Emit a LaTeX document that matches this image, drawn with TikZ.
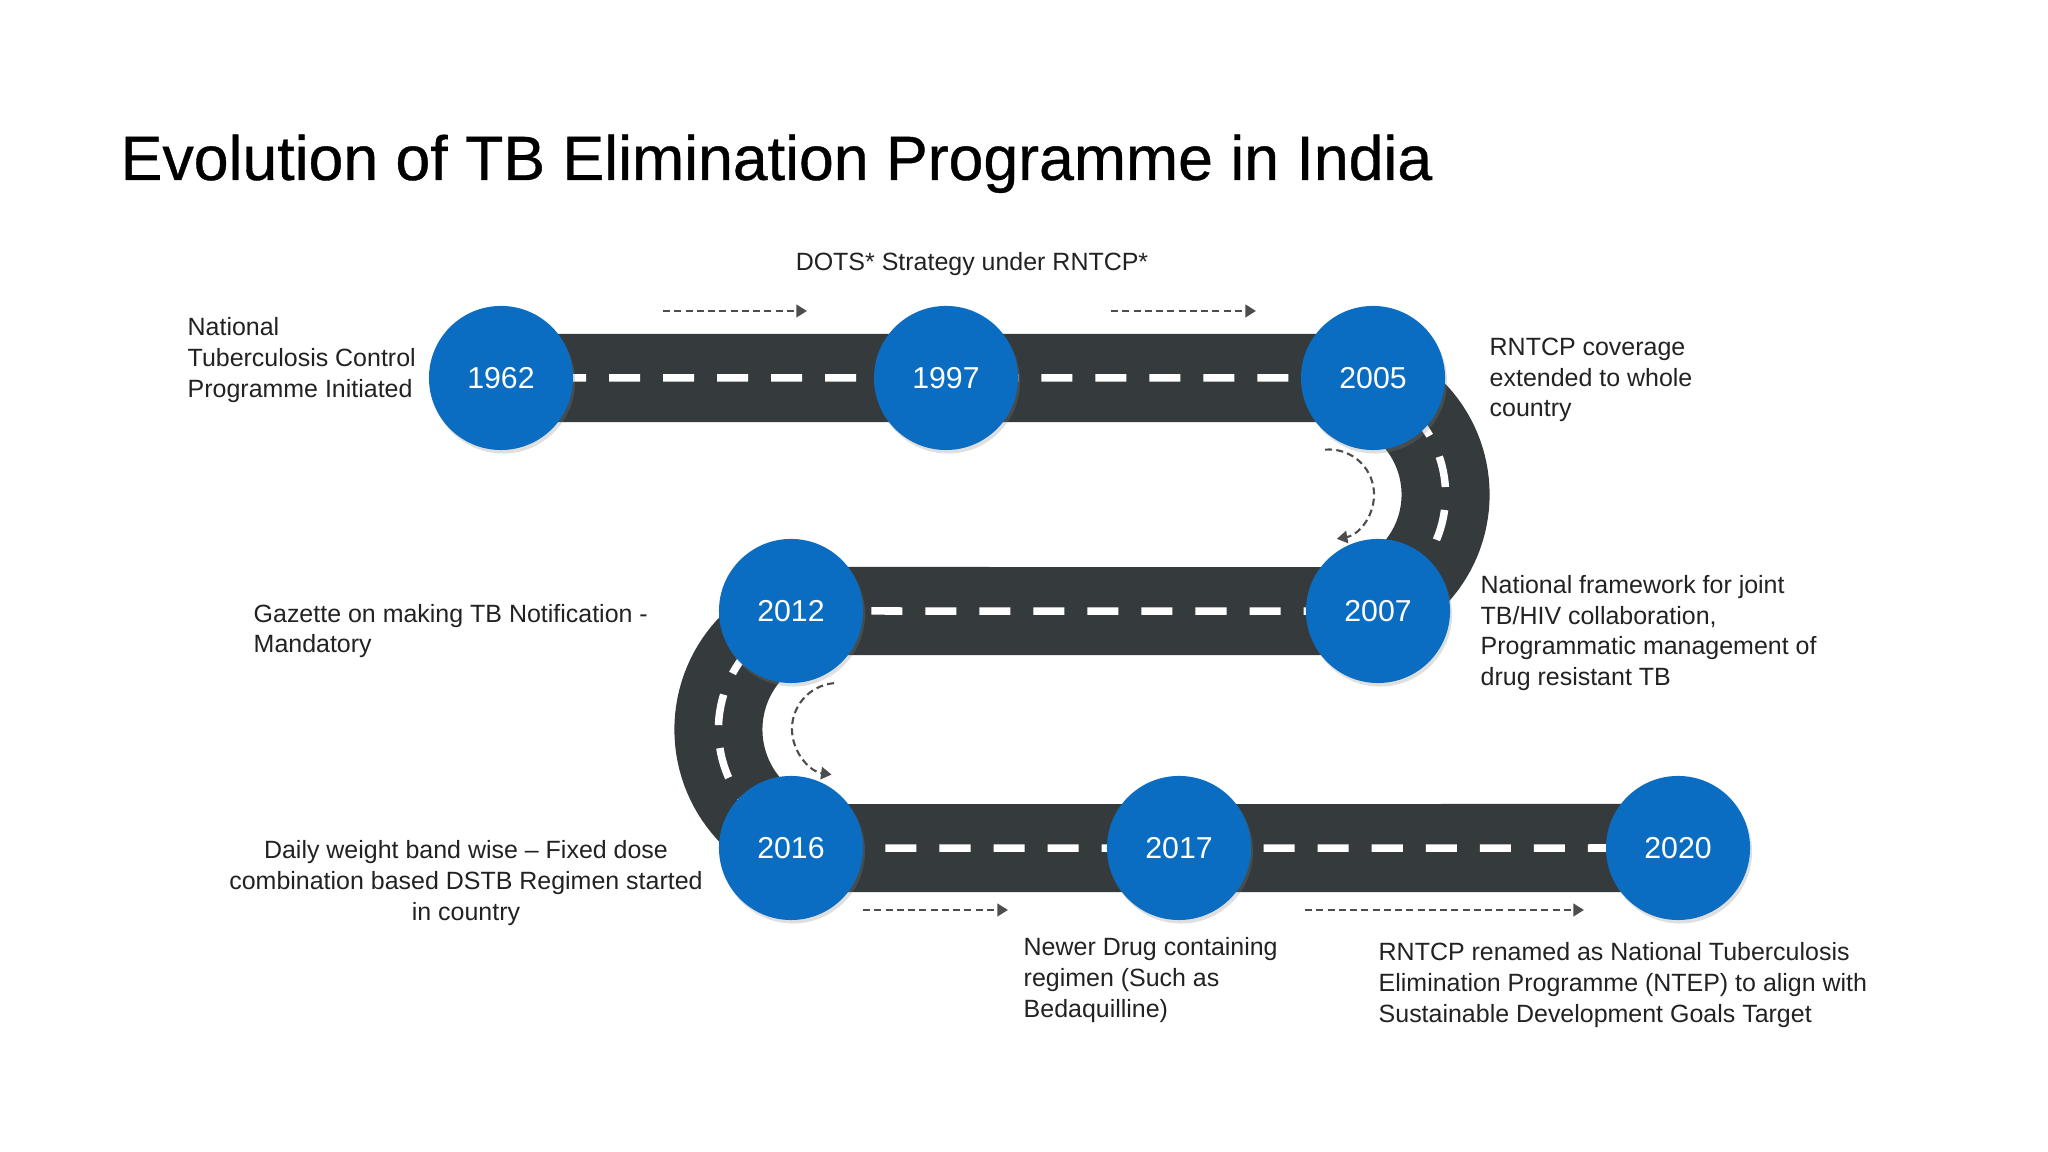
\documentclass[tikz,border=0pt]{standalone}
\usepackage{fontspec}
\setmainfont{Liberation Sans}
\newfontfamily\headfont[FakeBold=0.6]{Liberation Sans}
\usetikzlibrary{positioning,arrows.meta,shadows,backgrounds}
\definecolor{tbblue}{HTML}{0B6DC2}
\definecolor{asphalt}{HTML}{353B3D}
\definecolor{ink}{HTML}{222222}
\definecolor{arrowgray}{HTML}{4D4D4D}

\begin{document}
\begin{tikzpicture}[
  x=0.01cm, y=0.01cm,
  font=\fontsize{7.1}{8.7}\selectfont,
  year/.style={circle, fill=tbblue, minimum size=1.44cm, inner sep=0pt,
               text=white, font=\fontsize{8.6}{10}\selectfont,
               drop shadow={opacity=0.25, shadow xshift=0.02cm, shadow yshift=-0.035cm}},
  note/.style={inner sep=0pt, text=ink, align=left, anchor=west},
  road/.style={asphalt, line width=0.88cm},
  lane/.style={white, line width=0.075cm, dash pattern=on 0.31cm off 0.23cm},
  nextarrow/.style={arrowgray, line width=0.8pt, dash pattern=on 2pt off 1.2pt,
                    -{Triangle[length=3pt,width=3.5pt]}},
  bendarrow/.style={nextarrow, line width=0.6pt},
]
\useasboundingbox (0,0) rectangle (2048,1152);

\node[note, anchor=base west, font=\headfont\fontsize{17.8}{20}\selectfont, text=black]
  (title) at (120,972) {Evolution of TB Elimination Programme in India};

% milestones
\node[year] (y1962) at (501,774) {1962};
\node[year] (y1997) at (946,774) {1997};
\node[year] (y2005) at (1373,774) {2005};
\node[year] (y2007) at (1378,541) {2007};
\node[year] (y2012) at (791,541) {2012};
\node[year] (y2016) at (791,304) {2016};
\node[year] (y2017) at (1179,304) {2017};
\node[year] (y2020) at (1678,304) {2020};

% the road under the milestones
\begin{scope}[on background layer]
\foreach \s in {road,lane}
  \draw[\s] (y1962.center) -- (1329,774)
    arc[start angle=90, end angle=-90, radius=1.165cm] -- (837,541)
    arc[start angle=90, end angle=270, radius=1.185cm] -- (y2020.center);
\end{scope}

% direction hints
\foreach \n/\xa/\xb/\yy in {1/663/807/841, 2/1111/1256/841, 3/863/1008/242, 4/1305/1584/242} {
  \coordinate (s\n) at (\xa,\yy);
  \coordinate (e\n) at (\xb,\yy);
  \draw[nextarrow] (s\n) -- (e\n);
}
\coordinate (rbend) at (1329,657.5);
\coordinate (lbend) at (838,423);
\draw[bendarrow] (rbend) ++(95:45) arc[start angle=95, end angle=-80, radius=0.45cm];
\draw[bendarrow] (lbend) ++(95:46) arc[start angle=95, end angle=262, radius=0.46cm];

% labels
\node[note, anchor=center] (dots) at (972,888) {DOTS* Strategy under RNTCP*};
\node[note] (t1962) at (187,792) {National\\Tuberculosis Control\\Programme Initiated};
\node[note] (t2005) at (1489,772) {RNTCP coverage\\extended to whole\\country};
\node[note] (t2007) at (1480,519) {National framework for joint\\TB/HIV collaboration,\\Programmatic management of\\drug resistant TB};
\node[note] (t2012) at (253,521) {Gazette on making TB Notification -\\Mandatory};
\node[note, align=center, anchor=center] (t2016) at (466,269)
  {Daily weight band wise \textendash{} Fixed dose\\combination based DSTB Regimen started\\in country};
\node[note] (t2017) at (1023,172) {Newer Drug containing\\regimen (Such as\\Bedaquilline)};
\node[note] (t2020) at (1378,167) {RNTCP renamed as National Tuberculosis\\Elimination Programme (NTEP) to align with\\Sustainable Development Goals Target};
\end{tikzpicture}
\end{document}
